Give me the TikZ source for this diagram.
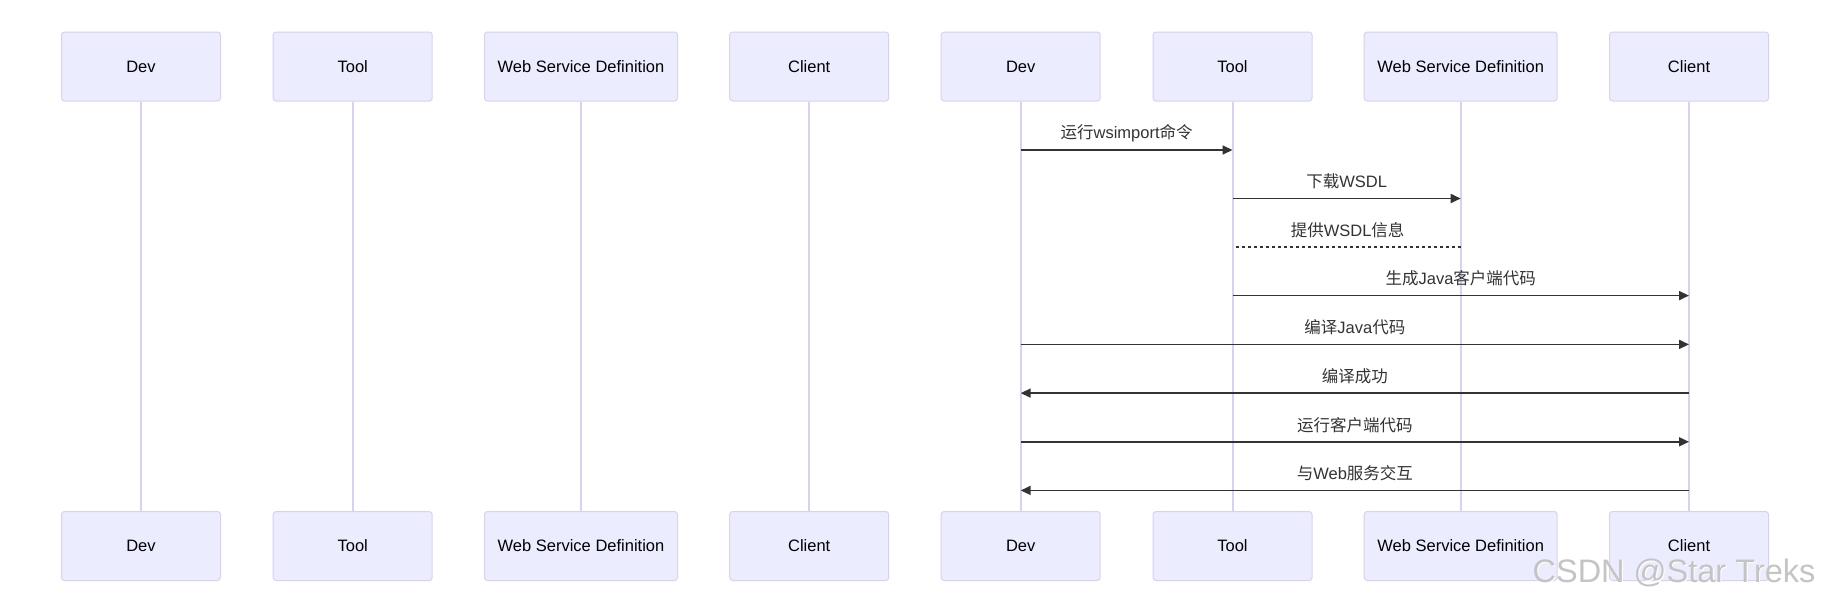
\documentclass[tikz,border=0pt]{standalone}
\usepackage{fontspec}
\setmainfont{Liberation Sans}
\newfontfamily\cjk{Noto Sans CJK SC}
\newcommand\zhtext[1]{{\cjk #1}}
\usetikzlibrary{arrows.meta}
\definecolor{actorfill}{HTML}{ECECFF}
\definecolor{actorline}{HTML}{D9D0F4}
\definecolor{msgcol}{HTML}{333333}
\definecolor{wmark}{HTML}{C4C4C4}
\begin{document}
\begin{tikzpicture}[x=1pt,y=-1pt,
  actorbox/.style={draw=actorline, fill=actorfill, line width=1pt, rounded corners=3pt,
    minimum width=159pt, minimum height=69pt, inner sep=0pt, text=black,
    font=\fontsize{16.5}{19}\selectfont},
  lifeline/.style={draw=actorline, line width=2pt},
  msg/.style={draw=msgcol, line width=1.7pt, -{Triangle[length=10pt,width=9pt]}},
  reply/.style={draw=msgcol, line width=1.5pt, dash pattern=on 3pt off 3pt},
  msglabel/.style={midway, yshift=17pt, text=msgcol, inner sep=0pt,
    font=\fontsize{16.5}{19}\selectfont}]
\useasboundingbox (0,0) rectangle (1825,605);
\fill[white] (0,0) rectangle (1825,605);
% top actors
\node[actorbox] (d1t) at (141,66.5) {Dev};
\node[actorbox] (t1t) at (352.7,66.5) {Tool};
\node[actorbox, minimum width=193pt] (w1t) at (581,66.5) {Web Service Definition};
\node[actorbox] (c1t) at (809.2,66.5) {Client};
\node[actorbox] (d2t) at (1020.7,66.5) {Dev};
\node[actorbox] (t2t) at (1232.5,66.5) {Tool};
\node[actorbox, minimum width=193pt] (w2t) at (1460.7,66.5) {Web Service Definition};
\node[actorbox] (c2t) at (1689,66.5) {Client};
% bottom actors
\node[actorbox] (d1b) at (141,546) {Dev};
\node[actorbox] (t1b) at (352.7,546) {Tool};
\node[actorbox, minimum width=193pt] (w1b) at (581,546) {Web Service Definition};
\node[actorbox] (c1b) at (809.2,546) {Client};
\node[actorbox] (d2b) at (1020.7,546) {Dev};
\node[actorbox] (t2b) at (1232.5,546) {Tool};
\node[actorbox, minimum width=193pt] (w2b) at (1460.7,546) {Web Service Definition};
\node[actorbox] (c2b) at (1689,546) {Client};
% lifelines
\foreach \a in {d1,t1,w1,c1,d2,t2,w2,c2}{
  \draw[lifeline] (\a t.south) -- (\a b.north);
}
% messages
\draw[msg] (d2t.south |- 0,150) -- (t2t.south |- 0,150)
  node[msglabel] {\zhtext{运行}wsimport\zhtext{命令}};
\draw[msg] (t2t.south |- 0,198.5) -- (w2t.south |- 0,198.5)
  node[msglabel] {\zhtext{下载}WSDL};
\draw[reply] (w2t.south |- 0,246.8) -- ([xshift=2pt]t2t.south |- 0,246.8)
  node[msglabel] {\zhtext{提供}WSDL\zhtext{信息}};
\draw[msg] (t2t.south |- 0,295.6) -- (c2t.south |- 0,295.6)
  node[msglabel] {\zhtext{生成}Java\zhtext{客户端代码}};
\draw[msg] (d2t.south |- 0,344.4) -- (c2t.south |- 0,344.4)
  node[msglabel] {\zhtext{编译}Java\zhtext{代码}};
\draw[msg] (c2t.south |- 0,393.1) -- (d2t.south |- 0,393.1)
  node[msglabel] {\zhtext{编译成功}};
\draw[msg] (d2t.south |- 0,441.8) -- (c2t.south |- 0,441.8)
  node[msglabel] {\zhtext{运行客户端代码}};
\draw[msg] (c2t.south |- 0,490.4) -- (d2t.south |- 0,490.4)
  node[msglabel] {\zhtext{与}Web\zhtext{服务交互}};
% watermark
\node[text=white, font=\fontsize{32.5}{36}\selectfont, inner sep=0pt] (wm0) at (1675,574) {CSDN @Star Treks};
\node[text=wmark, font=\fontsize{32.5}{36}\selectfont, inner sep=0pt] (wm) at (1674,573) {CSDN @Star Treks};
\end{tikzpicture}
\end{document}
